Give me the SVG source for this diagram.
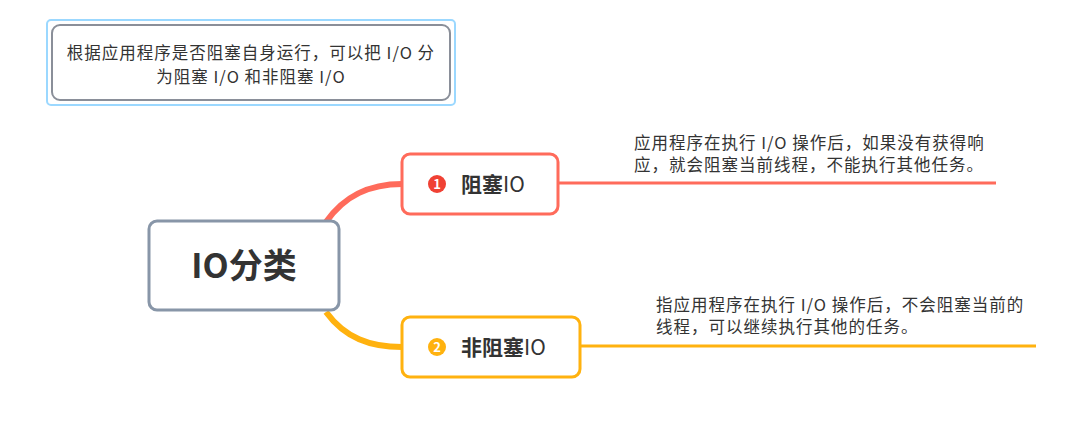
<svg xmlns="http://www.w3.org/2000/svg" width="1078" height="426" viewBox="0 0 1078 426">
<style>
text{font-family:"Noto Sans CJK SC","Noto Sans",sans-serif;fill:#333}
.s{font-size:16.5px;letter-spacing:1px}
.b{font-size:21px}
.bb{font-weight:bold}
</style>
<rect width="1078" height="426" fill="#fff"/>
<g id="connectors" fill="none">
<path d="M326,222 C345,195 370,184 402,184" stroke="#ff6b5b" stroke-width="6"/>
<path d="M326,312 C345,338 370,347 402,347" stroke="#ffb20f" stroke-width="6"/>
<line x1="558" y1="183" x2="996" y2="183" stroke="#ff6b5b" stroke-width="3"/>
<line x1="580" y1="346" x2="1036" y2="346" stroke="#ffb20f" stroke-width="3"/>
</g>
<g id="note">
<rect x="47" y="20" width="408" height="85" rx="4" fill="none" stroke="#9bd8ff" stroke-width="2"/>
<rect x="52" y="25" width="398" height="75" rx="8" fill="#fff" stroke="#8a8f99" stroke-width="2"/>
<text class="s" x="251" y="59" text-anchor="middle">根据应用程序是否阻塞自身运行，可以把 I/O 分</text>
<text class="s" x="251" y="83" text-anchor="middle">为阻塞 I/O 和非阻塞 I/O</text>
</g>
<g id="root">
<rect x="149" y="221" width="190" height="89" rx="8" fill="#fff" stroke="#8896a8" stroke-width="3"/>
<text x="244" y="278" text-anchor="middle" font-size="34" font-weight="bold">IO分类</text>
</g>
<g id="n1">
<rect x="402" y="154" width="156" height="60" rx="8" fill="#fff" stroke="#ff6b5b" stroke-width="3"/>
<circle cx="437" cy="184" r="9" fill="#f04134"/>
<text x="437" y="189" text-anchor="middle" font-size="13" font-weight="bold" style="fill:#fff">1</text>
<text class="b" x="461" y="192"><tspan class="bb">阻塞</tspan>IO</text>
</g>
<g id="n2">
<rect x="402" y="317" width="178" height="60" rx="8" fill="#fff" stroke="#ffb20f" stroke-width="3"/>
<circle cx="437" cy="347" r="9" fill="#ffb20f"/>
<text x="437" y="352" text-anchor="middle" font-size="13" font-weight="bold" style="fill:#fff">2</text>
<text class="b" x="461" y="355"><tspan class="bb">非阻塞</tspan>IO</text>
</g>
<g id="d1">
<text class="s" x="634" y="149">应用程序在执行 I/O 操作后，如果没有获得响</text>
<text class="s" x="634" y="171">应，就会阻塞当前线程，不能执行其他任务。</text>
</g>
<g id="d2">
<text class="s" x="656" y="311">指应用程序在执行 I/O 操作后，不会阻塞当前的</text>
<text class="s" x="656" y="333">线程，可以继续执行其他的任务。</text>
</g>
</svg>
